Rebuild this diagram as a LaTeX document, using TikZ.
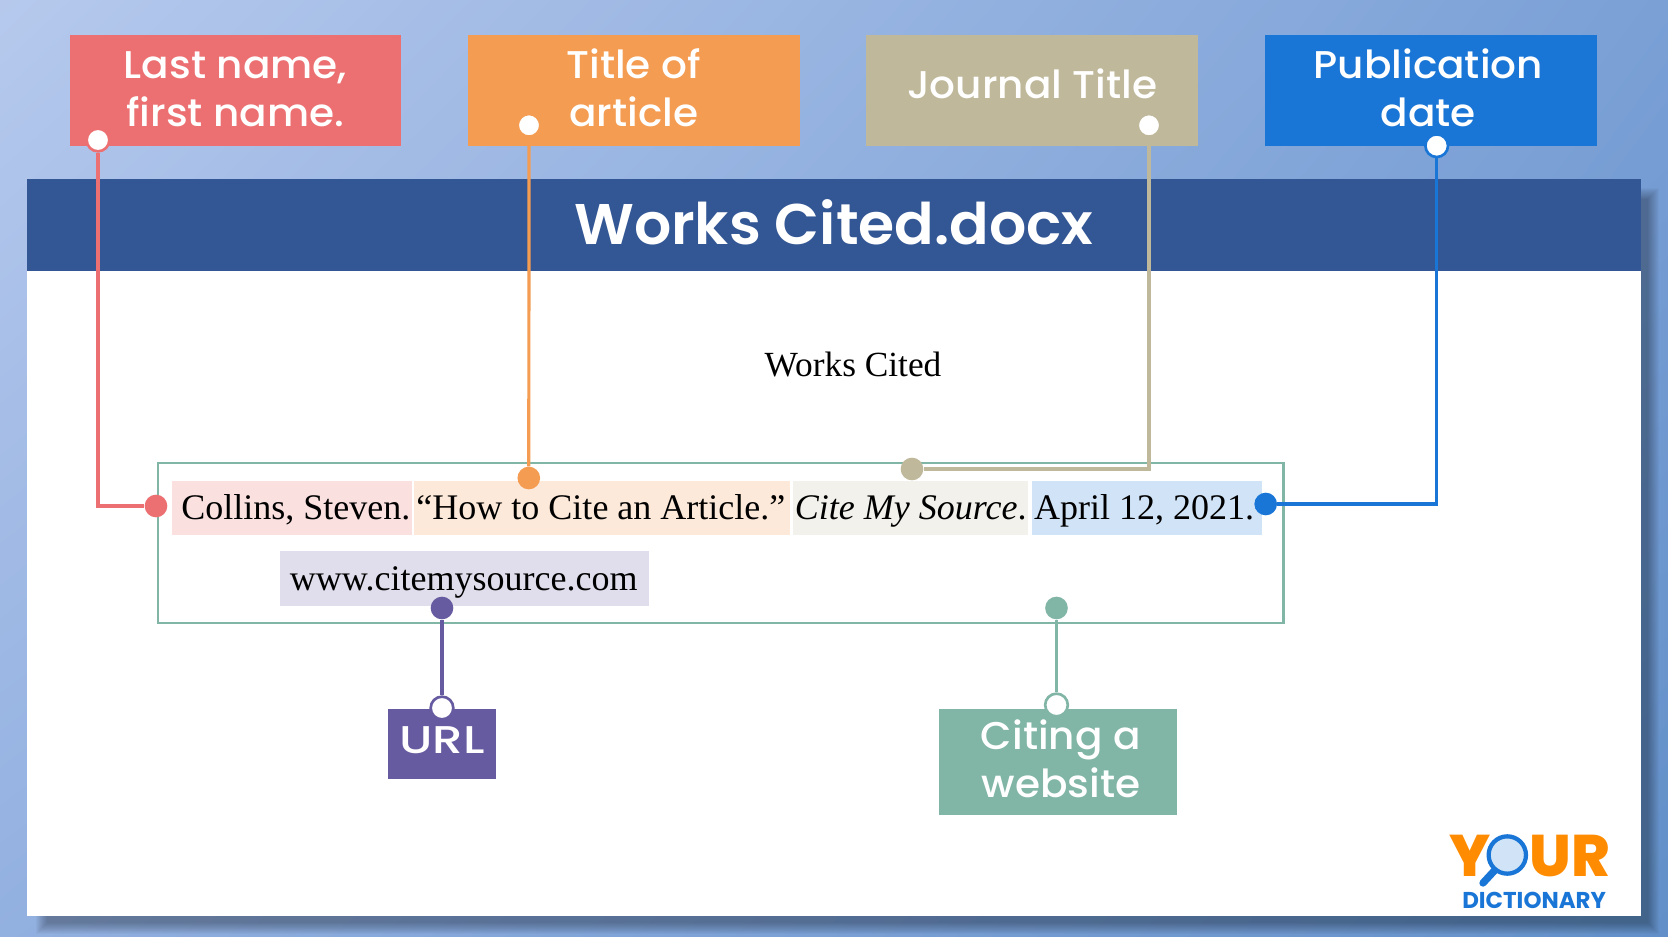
\documentclass[tikz,border=0pt]{standalone}
\usepackage{fontspec}
\usetikzlibrary{shadings}
\setmainfont{Liberation Serif}
\newfontfamily\labelfont{Poppins Medium}[FakeStretch=1.05]
\newfontfamily\headfont{Poppins SemiBold}[FakeStretch=1.02]
\newfontfamily\urlfont{Poppins Medium}[FakeStretch=1.25]
\newfontfamily\logofont{Poppins ExtraBold}
\newfontfamily\dictfont{Poppins Bold}
\definecolor{lastred}{HTML}{EC7072}
\definecolor{titleorange}{HTML}{F49C52}
\definecolor{journaltan}{HTML}{BFB89A}
\definecolor{dateblue}{HTML}{1976D6}
\definecolor{urlpurple}{HTML}{665BA0}
\definecolor{sitegreen}{HTML}{81B5A6}
\definecolor{headerblue}{HTML}{335694}
\definecolor{logoorange}{HTML}{FF8C00}
\definecolor{backnw}{RGB}{182,201,237}
\definecolor{backne}{RGB}{122,160,214}
\definecolor{backsw}{RGB}{146,176,224}
\definecolor{backse}{RGB}{98,143,200}
\tikzset{
	labelbox/.style={inner sep=0pt,text=white,align=center,text depth=5pt,font=\labelfont\fontsize{29}{36}\selectfont},
	hilite/.style={anchor=north west,inner sep=0pt,text=black,text height=28.8pt,text depth=11.9pt,font=\fontsize{27}{32}\selectfont},
	ringdot/.style={circle,draw=#1,fill=white,line width=2pt,inner sep=0pt,minimum size=17pt},
	solidot/.style={circle,fill=#1,inner sep=0pt,minimum size=17pt},
	wire/.style={draw=#1,line width=2.4pt}
}
\begin{document}
\begin{tikzpicture}[x=0.75pt,y=0.75pt,yscale=-1,xscale=1]
	%Background
	\shade [upper left=backnw,upper right=backne,lower left=backsw,lower right=backse] (0,0) rectangle (1668,936);
	%Sheet shadow
	\foreach \s in {0,...,11} {
		\fill [black,opacity=0.028] (36+\s,188+\s) rectangle (1659-\s,934-\s);
	}
	%Sheet
	\fill [white] (26.6,179) rectangle (1641,916);
	% Header
	\node (header) [fill=headerblue,inner sep=0pt,minimum width=1210.8pt,minimum height=69pt,text=white,text depth=4pt,font=\headfont\fontsize{43}{50}\selectfont] at (833.8,225) {Works Cited.docx};
	% Text Node
	\node (pagetitle) [inner sep=0pt,font=\fontsize{26.5}{32}\selectfont] at (853,365) {Works Cited};

	%Citation frame
	\draw [sitegreen,line width=1.7pt] (158.2,463.3) rectangle (1283.4,623);
	% Citation parts
	\node (collins) [hilite,fill=lastred!22,minimum width=180pt] at (172,480.7) {\kern5.5pt Collins, Steven.};
	\node (article) [hilite,fill=titleorange!22,minimum width=282pt] at (414,480.7) {``How to Cite an Article.''\kern2pt};
	\node (journal) [hilite,fill=journaltan!20,minimum width=176.2pt] at (793,480.7) {\textit{Cite My Source}.};
	\node (pubdate) [hilite,fill=dateblue!20,minimum width=172.7pt] at (1031.7,480.7) {April 12, 2021.\kern4.5pt};
	\node (website) [hilite,fill=urlpurple!20,minimum width=276.7pt,text height=29.7pt,text depth=11pt] at (280,551) {www.citemysource.com\kern1.5pt};

	% Label boxes
	\node (lastlabel) [labelbox,fill=lastred,minimum width=248.8pt,minimum height=83.2pt,text depth=3pt] at (235.5,90.6) {Last name,\\first name.};
	\node (titlelabel) [labelbox,fill=titleorange,minimum width=248.8pt,minimum height=83.2pt] at (633.7,90.6) {Title of\\article};
	\node (journallabel) [labelbox,fill=journaltan,minimum width=248.8pt,minimum height=83.2pt,text depth=10pt] at (1032.2,90.6) {Journal Title};
	\node (datelabel) [labelbox,fill=dateblue,minimum width=248.8pt,minimum height=83.2pt] at (1431,90.6) {Publication\kern4pt\\date\kern4pt};
	\node (urllabel) [labelbox,fill=urlpurple,minimum width=81.3pt,minimum height=52.7pt,font=\urlfont\fontsize{29}{36}\selectfont] at (441.8,743.8) {URL};
	\node (sitelabel) [labelbox,fill=sitegreen,minimum width=178.1pt,minimum height=79.8pt] at (1058.2,761.8) {\kern4pt Citing a\\\kern4pt website};

	% Dots on the labels
	\node (lastring) [ringdot=lastred] at (98,140) {};
	\node (titlering) [ringdot=titleorange] at (529,125.3) {};
	\node (journalring) [ringdot=journaltan] at (1149,125.3) {};
	\node (datering) [ringdot=dateblue] at (1436.7,145.7) {};
	\node (urlring) [ringdot=urlpurple] at (442,708) {};
	\node (sitering) [ringdot=sitegreen] at (1056.5,705) {};
	% Dots on the citation
	\node (lastdot) [solidot=lastred] at (156,506) {};
	\node (titledot) [solidot=titleorange] at (528.8,478) {};
	\node (journaldot) [solidot=journaltan] at (912,469) {};
	\node (datedot) [solidot=dateblue] at (1265.7,504) {};
	\node (urldot) [solidot=urlpurple] at (442,608) {};
	\node (sitedot) [solidot=sitegreen] at (1056.5,608) {};

	%Connectors
	\draw [wire=lastred] (lastring) |- (lastdot);
	\draw [wire=titleorange] (titlering) -- (titledot);
	\draw [wire=journaltan] (journalring) |- (journaldot);
	\draw [wire=dateblue] (datering) |- (datedot);
	\draw [wire=urlpurple] (urlring) -- (urldot);
	\draw [wire=sitegreen] (sitering) -- (sitedot);

	%Logo
	\node (logoy) [inner sep=0pt,anchor=base west,text=logoorange,font=\logofont\fontsize{44}{50}\selectfont] at (1449,876) {Y};
	\node (logour) [inner sep=0pt,anchor=base west,text=logoorange,font=\logofont\fontsize{44}{50}\selectfont] at (1529,876) {UR};
	\draw [dateblue,line width=5.5pt,line cap=round] (1495,870) -- (1483,883);
	\node (lens) [circle,draw=dateblue,fill=dateblue!20,line width=3.2pt,inner sep=0pt,minimum size=28pt] at (1507.3,855) {};
	\node (logodict) [inner sep=0pt,anchor=base west,text=dateblue,font=\dictfont\fontsize{17.2}{20}\selectfont] at (1462,908.3) {DICTIONARY};
\end{tikzpicture}
\end{document}
